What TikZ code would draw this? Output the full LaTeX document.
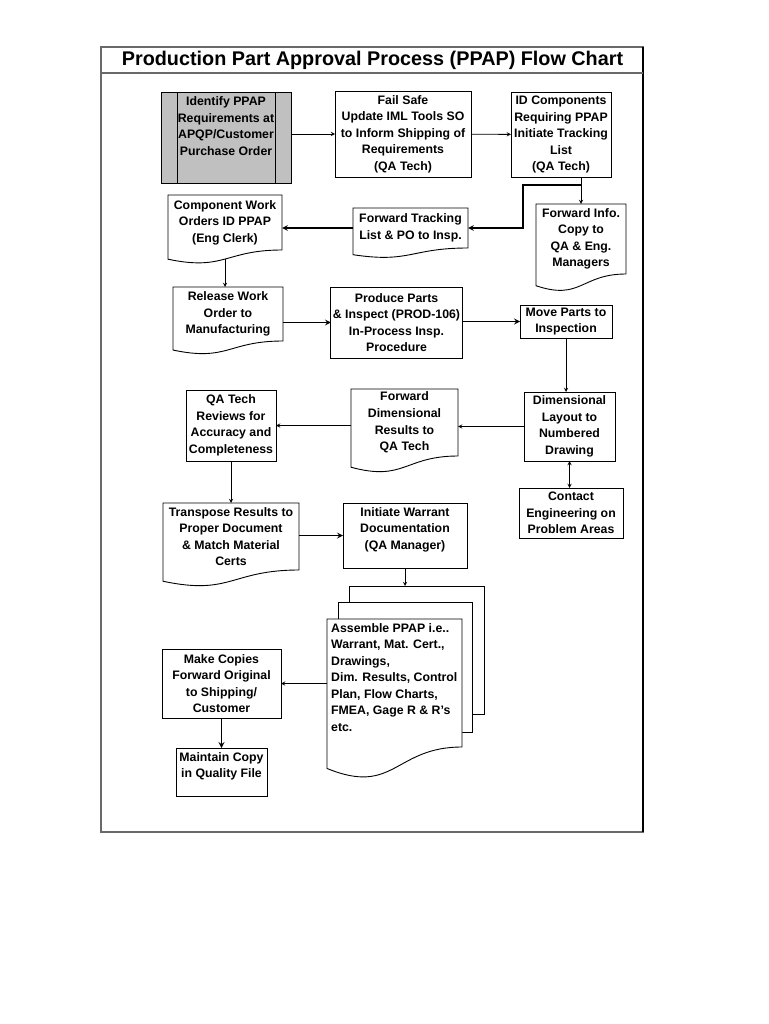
\documentclass[tikz,border=0pt]{standalone}
\usepackage{fontspec}
\setmainfont{Liberation Sans}
\usepackage{tikz}
\usetikzlibrary{arrows,calc,positioning}
\usepackage{xcolor}
\definecolor{ppgray}{RGB}{192,192,192}
\definecolor{ppframe}{RGB}{105,105,105}
\newcommand{\boxfont}{\fontsize{12.3}{16.5}\selectfont\bfseries}
\tikzstyle{process} = [rectangle, draw=black, fill=white, line width=0.9pt, align=center, inner xsep=2pt, inner ysep=1pt, outer sep=0pt, font=\boxfont]
\tikzstyle{docbox} = [rectangle, draw=none, align=center, inner xsep=2pt, inner ysep=1pt, outer sep=0pt, font=\boxfont]
\tikzstyle{boxtext} = [align=center, inner sep=0pt, font=\boxfont]
\tikzstyle{arrow} = [line width=0.9pt,->,>=stealth]
\tikzstyle{heavy} = [arrow, line width=1.6pt]
% document outline with wavy bottom, plus a coordinate on the wave
\newcommand{\docshape}[2][]{%
  \draw[line width=0.9pt,#1] let \p1=($(#2.north)-(#2.south)$), \n1={0.1675*\y1}, \n2={0.384*\y1}, \n3={0.165*\y1} in
    (#2.south east) -- (#2.north east) -- (#2.north west) -- ($(#2.south west)+(0,-\n1)$)
    .. controls ($(#2.south)+(0,-\n2)$) and (#2.south) .. (#2.south east) -- cycle
    ($(#2.south)+(0,-\n3)$) coordinate (#2-w);}

\begin{document}
\begin{tikzpicture}[x=1pt, y=-1pt]
\useasboundingbox (0,0) rectangle (768,1024);
% Frame and title
\draw[ppframe, line width=1.2pt] (101,47) rectangle (643,832);
\draw[black, line width=1.8pt] (643,47) -- (643,832);
\draw[ppframe, line width=2pt] (101,73) -- (643,73);
\node (title) at (372.5,60) {\fontsize{19.8}{22}\selectfont\bfseries Production Part Approval Process (PPAP) Flow Chart};

% Requirements row
\node (idppap) [process, fill=ppgray, minimum width=130, minimum height=91] at (226,137.5) {};
\draw[line width=0.9pt] ([xshift=16pt]idppap.north west) -- ([xshift=16pt]idppap.south west);
\draw[line width=0.9pt] ([xshift=-16pt]idppap.north east) -- ([xshift=-16pt]idppap.south east);
\node (idppaptext) [boxtext, below=4.5pt of idppap.north] {Identify PPAP\\Requirements at\\APQP/Customer\\Purchase Order};
\node (failsafe) [process, minimum width=136, minimum height=86] at (403,134) {Fail Safe\\Update IML Tools SO\\to Inform Shipping of\\Requirements\\(QA Tech)};
\node (idcomp) [process, minimum width=100, minimum height=85] at (561,134.5) {ID Components\\Requiring PPAP\\Initiate Tracking\\List\\(QA Tech)};

% Tracking row
\node (fwdinfo) [docbox, minimum width=90, minimum height=70] at (581,239) {Forward Info.\\Copy to\\QA \& Eng.\\Managers};
\docshape{fwdinfo}
\node (fwdtrack) [docbox, minimum width=115, minimum height=40] at (410.5,228) {Forward Tracking\\List \& PO to Insp.};
\docshape{fwdtrack}
\node (compwork) [docbox, minimum width=114, minimum height=55] at (225,222.5) {Component Work\\Orders ID PPAP\\(Eng Clerk)};
\docshape{compwork}

% Manufacturing row
\node (release) [docbox, minimum width=110, minimum height=54] at (228,314) {Release Work\\Order to\\Manufacturing};
\docshape{release}
\node (produce) [process, minimum width=131, minimum height=71] at (396.5,322.5) {Produce Parts\\\& Inspect (PROD-106)\\In-Process Insp.\\Procedure};
\node (move) [process, minimum width=92, minimum height=33] at (566,321.5) {Move Parts to\\Inspection};

% Inspection row
\node (dimlayout) [process, minimum width=91, minimum height=69] at (569.5,426.5) {Dimensional\\Layout to\\Numbered\\Drawing};
\node (contact) [process, minimum width=104, minimum height=50] at (571,513) {Contact\\Engineering on\\Problem Areas};
\node (fwddim) [docbox, minimum width=107, minimum height=67] at (404.5,422.5) {Forward\\Dimensional\\Results to\\QA Tech};
\docshape{fwddim}
\node (qareview) [process, minimum width=90, minimum height=71] at (231,425.5) {QA Tech\\Reviews for\\Accuracy and\\Completeness};

% Warrant row
\node (transpose) [docbox, minimum width=136, minimum height=67] at (231,536.5) {Transpose Results to\\Proper Document\\\& Match Material\\Certs};
\docshape{transpose}
\node (initwarrant) [process, minimum width=124, minimum height=65] at (405,535.5) {};
\node (initwarranttext) [boxtext, below=4pt of initwarrant.north] {Initiate Warrant\\Documentation\\(QA Manager)};

% PPAP package
\node (asmback) [process, minimum width=135, minimum height=128] at (416.5,650) {};
\node (asmmid) [process, minimum width=134, minimum height=130] at (405,667) {};
\node (assemble) [docbox, minimum width=135, minimum height=128] at (394.5,683) {};
\docshape[fill=white]{assemble}
\node (assembletext) [boxtext, align=left, anchor=north west] at ($(assemble.north west)+(4,4)$) {Assemble PPAP i.e..\\Warrant, Mat. Cert.,\\Drawings,\\Dim. Results, Control\\Plan, Flow Charts,\\FMEA, Gage R \& R's\\etc.};
\node (makecopies) [process, minimum width=119, minimum height=69] at (221.5,683.5) {Make Copies\\Forward Original\\to Shipping/\\Customer};
\node (maintain) [process, minimum width=91, minimum height=48] at (221.5,772) {};
\node (maintaintext) [boxtext, below=4pt of maintain.north] {Maintain Copy\\in Quality File};

% Flow arrows
\draw[arrow] (idppap.east |- failsafe.west) -- (failsafe.west);
\draw[arrow] (failsafe) -- (idcomp);
\draw[arrow] (fwdinfo.north |- idcomp.south) -- (fwdinfo.north);
\coordinate (split) at ($(fwdinfo.north |- idcomp.south)+(0,8)$);
\coordinate (bend) at ($(split)+(-58,0)$);
\draw[heavy] (split) -- (bend) |- (fwdtrack.east);
\draw[heavy] (fwdtrack.west) -- (fwdtrack.west -| compwork.east);
\draw[arrow] (compwork-w) -- (compwork-w |- release.north);
\draw[heavy] (release.east |- produce.west) -- (produce.west);
\draw[heavy] (produce.east |- move.west) -- (move.west);
\draw[arrow] (move.south) -- (move.south |- dimlayout.north);
\draw[arrow] (dimlayout.west) -- (dimlayout.west -| fwddim.east);
\draw[arrow, <->] (dimlayout.south) -- (dimlayout.south |- contact.north);
\draw[arrow] (fwddim.west |- qareview.east) -- (qareview.east);
\draw[arrow] (qareview.south) -- (transpose.north);
\draw[heavy] (transpose.east |- initwarrant.west) -- (initwarrant.west);
\draw[arrow] (initwarrant.south) -- (initwarrant.south |- asmback.north);
\draw[arrow] (assemble.west |- makecopies.east) -- (makecopies.east);
\draw[heavy] (makecopies.south) -- (maintain.north);
\end{tikzpicture}
\end{document}
